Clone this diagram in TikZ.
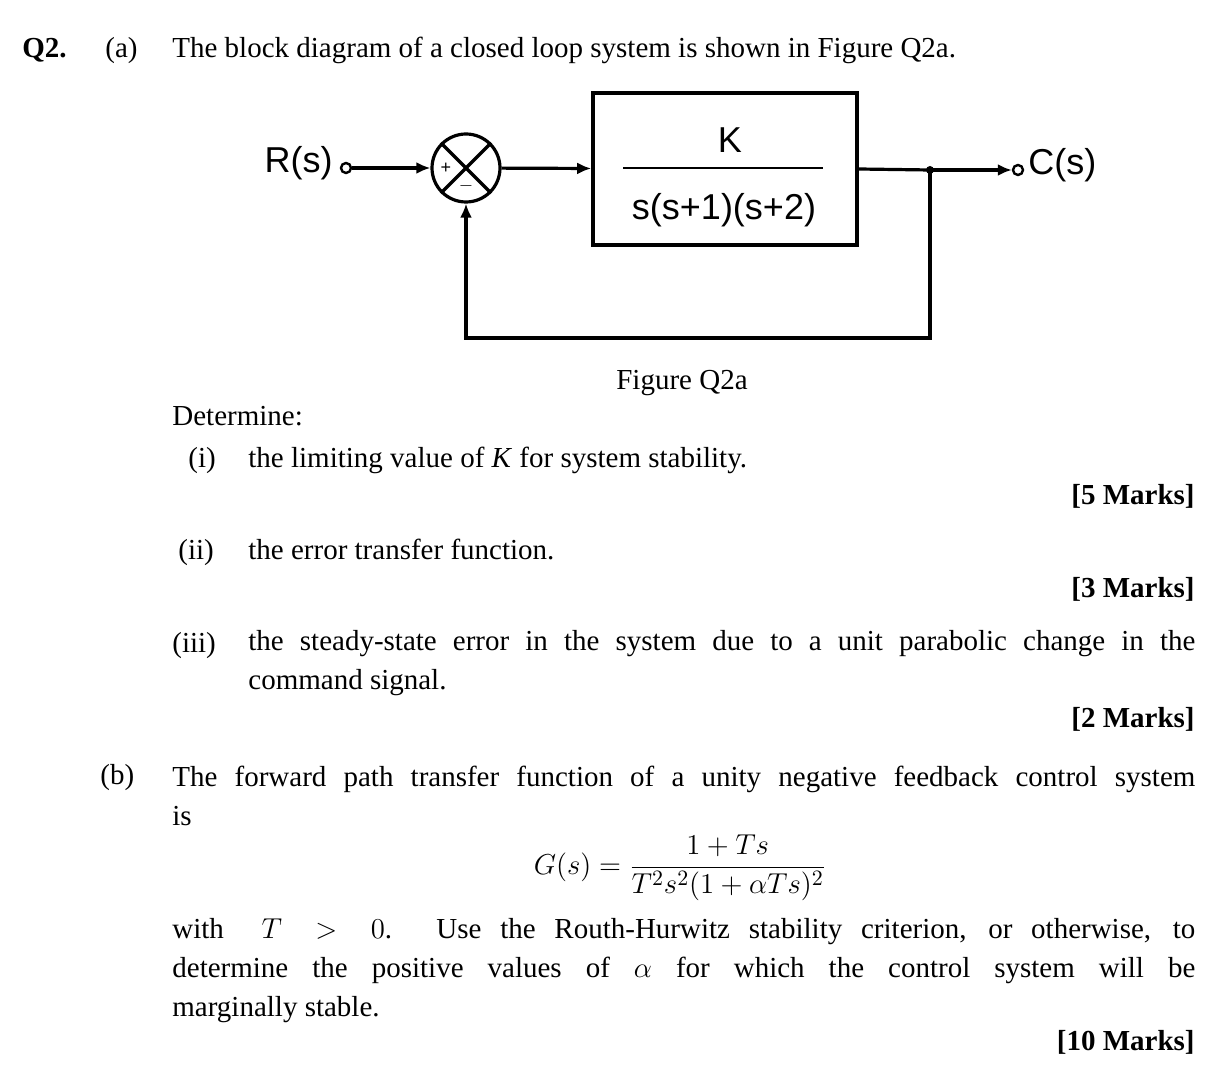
\documentclass[tikz,border=0pt]{standalone}
\usepackage{fontspec}
\setmainfont{Liberation Serif}
\newfontfamily\dia{Liberation Sans}
\usetikzlibrary{arrows.meta}
\tikzset{
 txt/.style={anchor=base west,inner sep=0pt,font=\fontsize{14.5}{17}\selectfont},
 rtxt/.style={anchor=base east,inner sep=0pt,font=\fontsize{14.5}{17}\selectfont\bfseries},
 lbl/.style={inner sep=0pt,font=\dia\fontsize{18}{20}\selectfont},
 wire/.style={line width=1.6pt},
 arr/.style={wire,-{Latex[length=7pt,width=6pt]}},
 term/.style={circle,draw,line width=1.2pt,minimum size=5pt,inner sep=0pt,fill=white}
}
\begin{document}
\begin{tikzpicture}[x=0.5pt,y=-0.5pt]
\useasboundingbox[fill=white] (0,0) rectangle (1228,1080);
\node[txt] (q) at (22,58) {\textbf{Q2.}};
\node[txt] (a) at (105,58) {(a)};
\node[txt] (t1) at (172,58) {The block diagram of a closed loop system is shown in Figure Q2a.};
% diagram
\node[lbl,anchor=east] (R) at (333,163) {R(s)};
\node[term] (rin) at (346,168) {};
\node[circle,draw,line width=1.6pt,minimum size=34pt,inner sep=0pt] (sum) at (466,168) {};
\draw[wire] (sum.north west) -- (sum.south east) (sum.north east) -- (sum.south west);
\node[font=\dia\fontsize{9}{9}\selectfont,inner sep=0pt] (pl) at (446,168) {+};
\node[font=\dia\fontsize{9}{9}\selectfont,inner sep=0pt] (mi) at (466,186) {$-$};
\node[draw,line width=1.8pt,minimum width=132pt,minimum height=76pt] (G) at (725,169) {};
\node[lbl] (K) at (730,140) {K};
\node[lbl] (den) at (724,210) {s(s+1)(s+2)};
\draw[line width=1.4pt] (623,168) -- (823,168);
\coordinate (j) at (930,170);
\node[term] (cout) at (1018,170) {};
\node[lbl,anchor=west] (C) at (1028,165) {C(s)};
\coordinate (fb1) at (930,338);
\coordinate (fb2) at (466,338);
\draw[arr] (rin) -- (sum);
\draw[arr] (sum) -- (G);
\draw[wire] (G.east) -- (j);
\draw[arr] (j) -- (cout);
\draw[arr] (j) -- (fb1) -- (fb2) -- (sum);
\fill (j) circle (2pt);
\node[txt,anchor=base] (fig) at (682,390) {Figure Q2a};
\node[txt] (det) at (172,426) {Determine:};
\node[txt] (i) at (188,468) {(i)};
\node[txt] (i1) at (248,468) {the limiting value of \textit{K} for system stability.};
\node[rtxt] (m5) at (1195,505) {[5 Marks]};
\node[txt] (ii) at (178,560) {(ii)};
\node[txt] (ii1) at (248,560) {the error transfer function.};
\node[rtxt] (m3) at (1195,598) {[3 Marks]};
\node[txt] (iii) at (172,653) {(iii)};
\node[txt,anchor=north west,text width=473.5pt,align=justify,font=\fontsize{14.5}{19.5}\selectfont] (iii1) at (248,630) {the steady-state error in the system due to a unit parabolic change in the\linebreak command signal.};
\node[rtxt] (m2) at (1195,728) {[2 Marks]};
\node[txt] (b) at (100,784) {(b)};
\node[txt,anchor=north west,text width=511.5pt,align=justify,font=\fontsize{14.5}{19.5}\selectfont] (b1) at (172,766) {The forward path transfer function of a unity negative feedback control system\linebreak is};
\node[inner sep=0pt,font=\fontsize{15}{18}\selectfont] (eq) at (680,868) {$\displaystyle G(s)=\frac{1+Ts}{T^2s^2(1+\alpha Ts)^2}$};
\node[txt,anchor=north west,text width=511.5pt,align=justify,font=\fontsize{14.5}{19.5}\selectfont] (b2) at (172,918) {with \ $T>0$. Use the Routh-Hurwitz stability criterion, or otherwise, to\linebreak determine the positive values of $\alpha$ for which the control system will be\linebreak marginally stable.};
\node[rtxt] (m10) at (1195,1051) {[10 Marks]};
\end{tikzpicture}
\end{document}
